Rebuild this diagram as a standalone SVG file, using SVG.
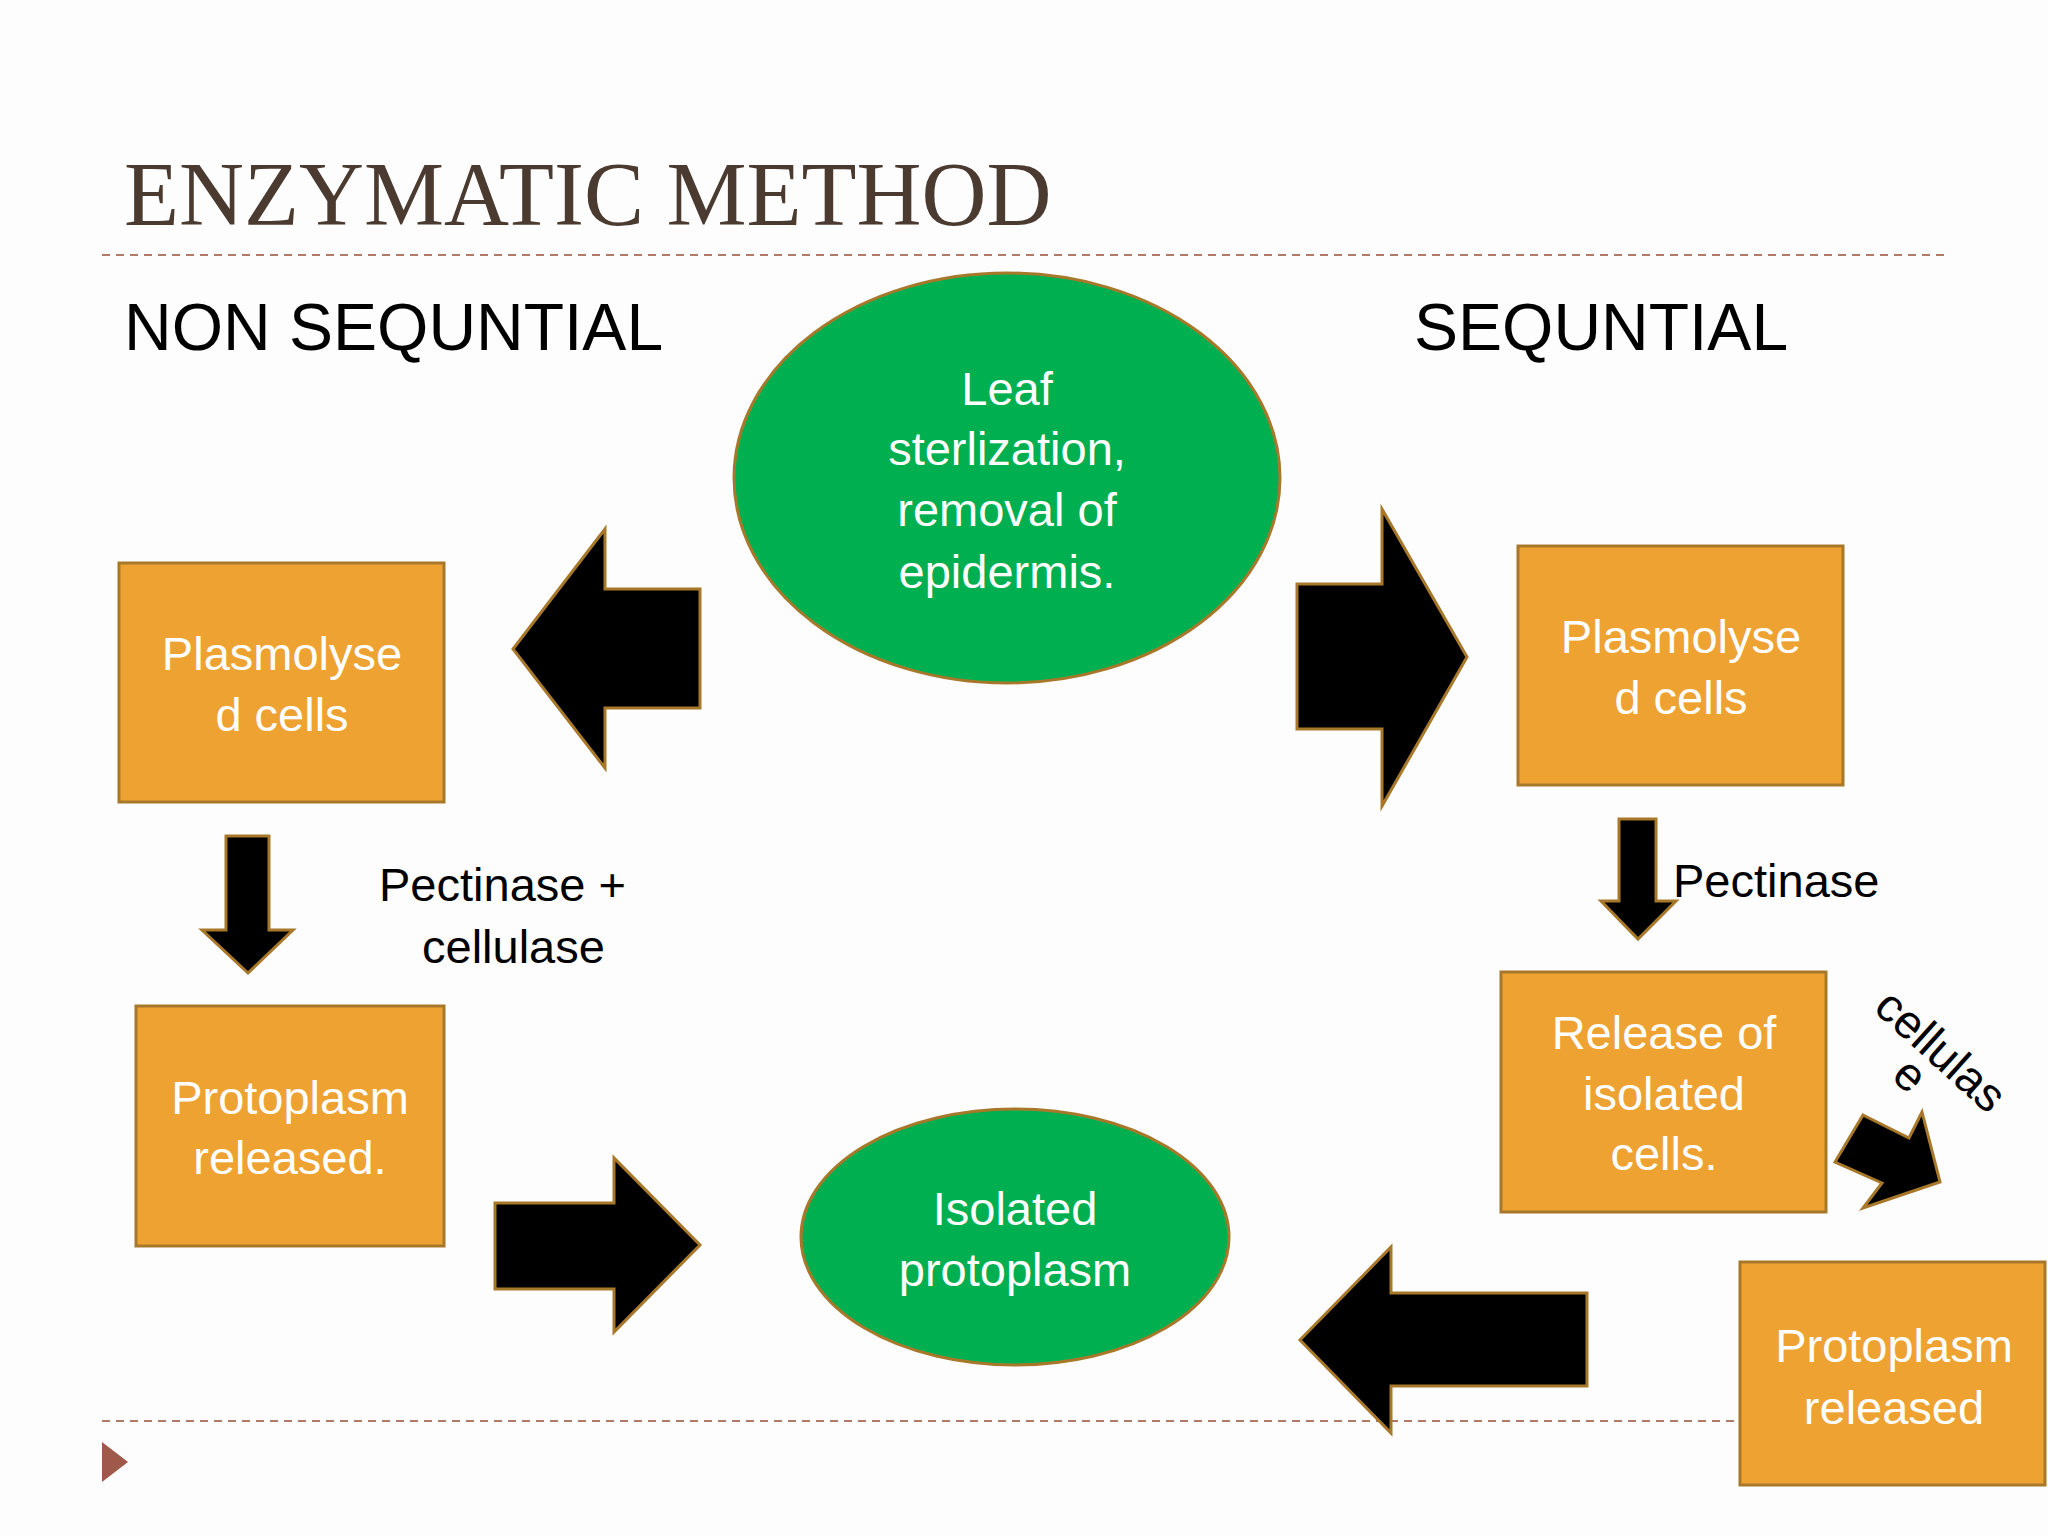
<svg xmlns="http://www.w3.org/2000/svg" width="2048" height="1536" viewBox="0 0 2048 1536">
<style>
.box{fill:#eea232;stroke:#a8782a;stroke-width:3}
.ell{fill:#00b050;stroke:#a8782a;stroke-width:3}
.arr{fill:#000;stroke:#a8782a;stroke-width:3;stroke-linejoin:miter}
.wt{font-family:"Liberation Sans",Arial,sans-serif;font-size:47px;fill:#fff;text-anchor:middle}
.bt{font-family:"Liberation Sans",Arial,sans-serif;font-size:47px;fill:#000}
.hd{font-family:"Liberation Sans",Arial,sans-serif;font-size:66px;fill:#000}
.dash{stroke:#b07a66;stroke-width:2;stroke-dasharray:8 6}
</style>
<rect width="2048" height="1536" fill="#fdfdfd"/>
<text x="124" y="225" font-family="Liberation Serif,serif" font-size="90" fill="#4a3a30">ENZYMATIC METHOD</text>
<line class="dash" x1="102" y1="255" x2="1946" y2="255"/>
<line class="dash" x1="102" y1="1421" x2="1740" y2="1421"/>
<polygon points="102,1442 128,1462 102,1482" fill="#a0584a"/>
<text class="hd" x="124" y="350">NON SEQUNTIAL</text>
<text class="hd" x="1414" y="350">SEQUNTIAL</text>
<g id="connectors">
<polygon class="arr" points="700,589 605,589 605,529 513,649 605,768 605,708 700,708"/>
<polygon class="arr" points="1297,584 1382,584 1382,509 1467,657 1382,806 1382,729 1297,729"/>
<polygon class="arr" points="226,836 269,836 269,930 293,930 248,973 202,930 226,930"/>
<polygon class="arr" points="495,1203 614,1203 614,1158 700,1245 614,1332 614,1289 495,1289"/>
<polygon class="arr" points="1619,819 1656,819 1656,901 1676,901 1638,939 1601,901 1619,901"/>
<polygon class="arr" points="1587,1293 1391,1293 1391,1247 1300,1340 1391,1433 1391,1386 1587,1386"/>
<polygon class="arr" points="1863,1115 1909,1138 1922,1112 1940,1182 1863,1208 1882,1183 1835,1162"/>
</g>
<text class="bt" x="379" y="901">Pectinase  +</text>
<text class="bt" x="422" y="963">cellulase</text>
<text class="bt" x="1673" y="897">Pectinase</text>
<text class="bt" transform="translate(1872,1010) rotate(42)">cellulas</text>
<text class="bt" transform="translate(1890,1078) rotate(42)">e</text>
<g id="leaf"><ellipse class="ell" cx="1007" cy="478" rx="273" ry="205"/>
<text class="wt" x="1007" y="405">Leaf</text><text class="wt" x="1007" y="465">sterlization,</text><text class="wt" x="1007" y="526">removal of</text><text class="wt" x="1007" y="588">epidermis.</text></g>
<g id="pl1"><rect class="box" x="119" y="563" width="325" height="239"/>
<text class="wt" x="282" y="670">Plasmolyse</text><text class="wt" x="282" y="731">d cells</text></g>
<g id="pl2"><rect class="box" x="1518" y="546" width="325" height="239"/>
<text class="wt" x="1681" y="653">Plasmolyse</text><text class="wt" x="1681" y="714">d cells</text></g>
<g id="pr1"><rect class="box" x="136" y="1006" width="308" height="240"/>
<text class="wt" x="290" y="1114">Protoplasm</text><text class="wt" x="290" y="1174">released.</text></g>
<g id="iso"><ellipse class="ell" cx="1015" cy="1237" rx="214" ry="128"/>
<text class="wt" x="1015" y="1225">Isolated</text><text class="wt" x="1015" y="1286">protoplasm</text></g>
<g id="rel"><rect class="box" x="1501" y="972" width="325" height="240"/>
<text class="wt" x="1664" y="1049">Release of</text><text class="wt" x="1664" y="1110">isolated</text><text class="wt" x="1664" y="1170">cells.</text></g>
<g id="pr2"><rect class="box" x="1740" y="1262" width="305" height="223"/>
<text class="wt" x="1894" y="1362">Protoplasm</text><text class="wt" x="1894" y="1424">released</text></g>
</svg>
